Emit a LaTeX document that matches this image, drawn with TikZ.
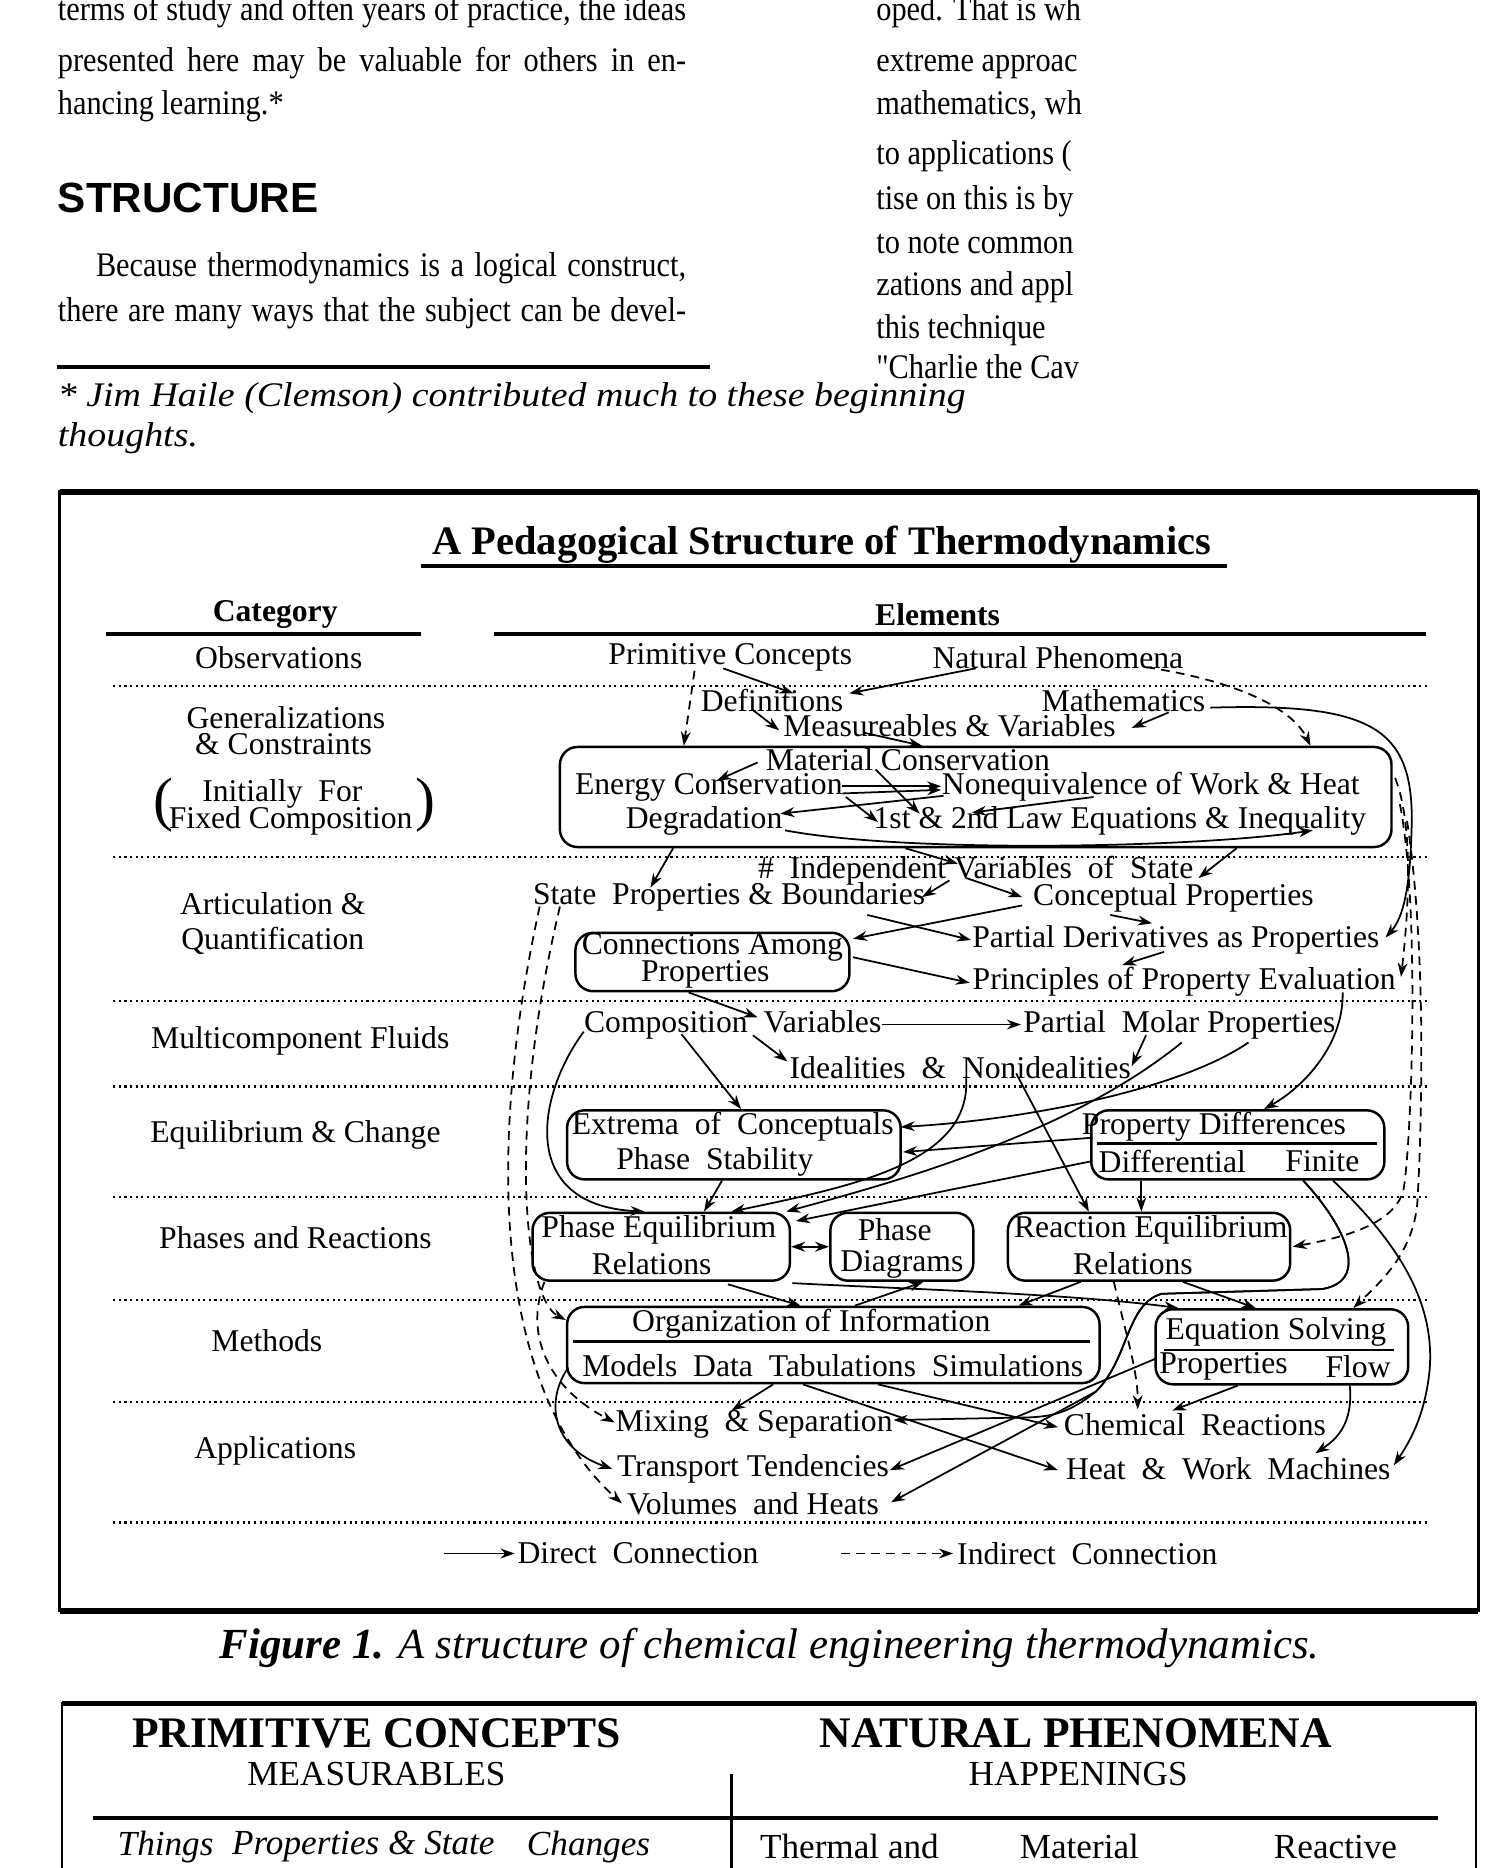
\documentclass[tikz,border=0pt]{standalone}
\usepackage{fontspec}
\setmainfont{Liberation Serif}
\newfontfamily\bodyfont[FakeStretch=0.88]{Liberation Serif}
\newfontfamily\footfont[FakeStretch=1.1]{Liberation Serif}
\newfontfamily\headfont{Liberation Sans}
\usetikzlibrary{arrows.meta, positioning, calc, fit}

\newcommand{\elemfont}{\fontsize{9}{10}\selectfont}
\newcommand{\bodyline}[1]{\makebox[6.276cm][s]{#1}}

\tikzset{
  elem/.style={font=\elemfont, inner sep=0.3pt},
  elbox/.style={draw, rounded corners=5pt, line width=0.7pt, inner sep=0pt},
  conn/.style={-{Stealth[length=4pt,width=2.8pt]}, line width=0.5pt},
  both/.style={conn, {Stealth[length=4pt,width=2.8pt]}-{Stealth[length=4pt,width=2.8pt]}},
  indir/.style={conn, dash pattern=on 2.5pt off 1.8pt},
  rowsep/.style={line width=0.6pt, dash pattern=on 0.6pt off 1pt},
  bodytext/.style={font=\bodyfont\fontsize{9.8}{12}\selectfont, anchor=base west, inner sep=0pt},
  foottext/.style={font=\footfont\itshape\fontsize{9.8}{12}\selectfont, anchor=base west, inner sep=0pt},
}

\begin{document}
\begin{tikzpicture}[x=0.011909cm, y=-0.011909cm]
\useasboundingbox (0,0) rectangle (1257,1568);
\fill[white] (0,0) rectangle (1257,1568);
\clip (0,0) rectangle (1257,1568);

% page text above the figure
\node[bodytext] (bodyA) at (48,17) {\bodyline{terms of study and often years of practice, the ideas}};
\node[bodytext] (bodyB) at (48,60) {\bodyline{presented here may be valuable for others in en-}};
\node[bodytext] (bodyC) at (48,96) {hancing learning.*};
\node[anchor=base west, inner sep=0pt, font=\headfont\bfseries\fontsize{12}{14}\selectfont] (secHead) at (48,178) {STRUCTURE};
\node[bodytext] (bodyD) at (80,232) {\makebox[5.895cm][s]{Because thermodynamics is a logical construct,}};
\node[bodytext] (bodyE) at (48,270) {\bodyline{there are many ways that the subject can be devel-}};
\draw[line width=1.2pt] (48,308) -- (596,308);
\node[foottext] (footA) at (48,341) {* Jim Haile (Clemson) contributed much to these beginning};
\node[foottext] (footB) at (48,375) {thoughts.};

\foreach \y/\t in {17/{oped. That is wh}, 60/{extreme approac}, 96/{mathematics, wh}, 138/{to applications (},
  176/{tise on this is by}, 213/{to note common}, 248/{zations and appl}, 284/{this technique}, 318/{"Charlie the Cav}}
  \node[bodytext] (right\y) at (735,\y) {\t};

% figure frame
\draw[line width=1pt] (50,413) rectangle (1241,1352);
\draw[line width=1.6pt] (50,413) -- (1241,413);
\draw[line width=1.6pt] (50,1352) -- (1241,1352);

\node[font=\bfseries\fontsize{11.5}{13}\selectfont, inner sep=1pt] (title) at (690,457) {A Pedagogical Structure of Thermodynamics};
\draw[line width=1.1pt] (353,475) -- (1030,475);

\node[elem, font=\elemfont\bfseries] (cathead) at (231,516) {Category};
\node[elem, font=\elemfont\bfseries] (elhead) at (787,516) {Elements};
\draw[line width=1.2pt] (89,532) -- (353,532);
\draw[line width=1.2pt] (415,532) -- (1197,532);

% row separators
\foreach \y in {576, 719, 840, 912, 1005, 1091, 1177, 1278}
  \draw[rowsep] (95,\y) -- (1198,\y);

% category column
\node[elem] (catobs) at (234,552) {Observations};
\node[elem] (catgenA) at (240,602) {Generalizations};
\node[elem] (catgenB) at (238,625) {\& Constraints};
\node[elem] (catinitA) at (237,666) {Initially\ \ For};
\node[elem] (catinitB) at (244,689) {Fixed Composition};
\node[inner sep=0pt, font=\fontsize{17}{17}\selectfont] (lpar) at (137,676) {(};
\node[inner sep=0pt, font=\fontsize{17}{17}\selectfont] (rpar) at (357,676) {)};
\node[elem, align=center] (catart) at (229,775) {Articulation \&\\Quantification};
\node[elem] (catmulti) at (252,874) {Multicomponent Fluids};
\node[elem] (catequil) at (248,953) {Equilibrium \& Change};
\node[elem] (catphase) at (248,1039) {Phases and Reactions};
\node[elem] (catmeth) at (224,1125) {Methods};
\node[elem] (catappl) at (231,1218) {Applications};

% elements
\node[elem] (prim) at (613,552) {Primitive Concepts};
\node[elem] (natph) at (888,552) {Natural Phenomena};
\node[elem] (defs) at (648,588) {Definitions};
\node[elem] (maths) at (943,588) {Mathematics};
\node[elem] (meas) at (797,609) {Measureables \& Variables};

\node[elbox, fit={(470,627) (1168,711)}] (gbox) {};
\node[elem] (matcons) at (762,638) {Material Conservation};
\node[elem] (encons) at (595,661) {Energy Conservation};
\node[elem] (noneq) at (966,660) {Nonequivalence of Work \& Heat};
\node[elem] (degr) at (591,689) {Degradation};
\node[elem] (laws) at (940,689) {1st \& 2nd Law Equations \& Inequality};

\node[elem] (indep) at (819,731) {\#\ \ Independent Variables\ \ of\ \ State};
\node[elem] (statep) at (612,753) {State\ \ Properties \& Boundaries};
\node[elem] (concp) at (985,754) {Conceptual Properties};
\node[elbox, fit={(483,783) (713,832)}] (connbox) {};
\node[elem] (connA) at (598,795) {Connections Among};
\node[elem] (connB) at (592,818) {Properties};
\node[elem] (pderiv) at (987,789) {Partial Derivatives as Properties};
\node[elem] (princ) at (994,824) {Principles of Property Evaluation};

\node[elem] (compv) at (615,860) {Composition\ \ Variables};
\node[elem] (pmolar) at (990,860) {Partial\ \ Molar Properties};
\node[elem] (ideal) at (806,896) {Idealities\ \ \&\ \ Nonidealities};

\node[elbox, fit={(476,932) (756,990)}] (extbox) {};
\node[elem] (extA) at (615,946) {Extrema\ \ of\ \ Conceptuals};
\node[elem] (extB) at (600,975) {Phase\ \ Stability};
\node[elbox, fit={(916,932) (1162,990)}] (pdbox) {};
\node[elem] (pdA) at (1019,946) {Property Differences};
\draw[line width=0.7pt] ($(pdbox.west)+(6,-1)$) -- ($(pdbox.east)+(-7,-1)$);
\node[elem] (pdB) at (984,975) {Differential};
\node[elem] (pdC) at (1110,975) {Finite};

\node[elbox, fit={(447,1018) (663,1075)}] (pebox) {};
\node[elem] (peA) at (553,1032) {Phase Equilibrium};
\node[elem] (peB) at (547,1061) {Relations};
\node[elbox, fit={(697,1018) (817,1075)}] (pdgbox) {};
\node[elem] (pdgA) at (751,1032) {Phase};
\node[elem] (pdgB) at (757,1061) {Diagrams};
\node[elbox, fit={(846,1018) (1083,1075)}] (rebox) {};
\node[elem] (reA) at (966,1032) {Reaction Equilibrium};
\node[elem] (reB) at (951,1061) {Relations};

\node[elbox, fit={(476,1097) (923,1161)}] (orgbox) {};
\node[elem] (orgA) at (681,1111) {Organization of Information};
\draw[line width=0.7pt] (481,1126) -- (915,1126);
\node[elem] (orgB) at (699,1146) {Models\ \ Data\ \ Tabulations\ \ Simulations};
\node[elbox, fit={(970,1099) (1182,1162)}] (eqbox) {};
\node[elem] (eqA) at (1071,1118) {Equation Solving};
\draw[line width=0.7pt] (977,1133) -- (1170,1133);
\node[elem] (eqB) at (1027,1147) {Properties};
\node[elem] (eqC) at (1140,1147) {Flow};

\node[elem] (mixsep) at (633,1196) {Mixing\ \ \& Separation};
\node[elem] (chemr) at (1003,1196) {Chemical\ \ Reactions};
\node[elem] (transp) at (632,1233) {Transport Tendencies};
\node[elem] (heatw) at (1031,1233) {Heat\ \ \&\ \ Work\ \ Machines};
\node[elem] (volh) at (632,1262) {Volumes\ \ and Heats};

% observations -> generalizations
\draw[conn] ($(prim)+(-6,9)$) -- ($(defs)+(18,-6)$);
\draw[conn] ($(natph)+(-69,9)$) -- ($(defs)+(65,-6)$);
\draw[indir] ($(natph)+(74,8)$) .. controls (1040,572) and (1085,595) .. ($(gbox.north)+(281,0)$);
\draw[indir] ($(prim)+(-30,11)$) -- ($(gbox.north west)+(105,0)$);
\draw[conn] ($(defs)+(-16,8)$) -- ($(meas)+(-143,4)$);
\draw[conn] ($(maths)+(38,10)$) -- ($(meas)+(153,2)$);
\draw[conn] ($(maths)+(73,6)$) .. controls (1150,590) and (1186,610) .. (1185,690) .. controls (1184,745) and (1178,770) .. ($(pderiv)+(176,-2)$);

% inside the generalizations box
\draw[conn] ($(meas)+(-72,6)$) -- ($(gbox.north)+(-45,0)$);
\draw[conn] ($(matcons)+(-126,2)$) -- ($(encons)+(7,-6)$);
\draw[conn] ($(encons)+(112,-1)$) -- ($(noneq)+(-176,0)$);
\draw[conn] ($(encons)+(112,5)$) -- ($(noneq)+(-176,3)$);
\draw[conn] ($(noneq)+(-174,8)$) -- ($(degr)+(64,-6)$);
\draw[conn] ($(matcons)+(-27,8)$) -- ($(laws)+(-168,-6)$);
\draw[conn] ($(encons)+(115,8)$) -- ($(laws)+(-203,1)$);
\draw[conn] ($(noneq)+(-48,9)$) -- ($(laws)+(-124,-7)$);
\draw[conn] ($(degr)+(68,8)$) .. controls (760,716) and (1000,712) .. ($(laws)+(162,8)$);

% generalizations -> articulation
\draw[conn] ($(gbox.south)+(-254,0)$) -- ($(statep)+(-66,-8)$);
\draw[conn] ($(gbox.south)+(-59,0)$) -- ($(indep)+(-15,-6)$);
\draw[conn] ($(gbox.south)+(219,0)$) -- ($(indep)+(187,6)$);
\draw[conn] ($(indep)+(-22,8)$) -- ($(statep)+(162,0)$);
\draw[conn] ($(indep)+(-8,6)$) -- ($(concp)+(-127,-1)$);
\draw[conn] ($(concp)+(-127,6)$) -- ($(connbox.north east)+(2,6)$);
\draw[conn] ($(statep)+(116,15)$) -- ($(pderiv)+(-172,0)$);
\draw[conn] ($(concp)+(-53,14)$) -- ($(pderiv)+(-20,-14)$);
\draw[conn] ($(pderiv)+(-10,10)$) -- ($(princ)+(-52,-14)$);
\draw[conn] ($(connbox.east)+(2,-4)$) -- ($(princ)+(-180,1)$);

% articulation -> multicomponent -> equilibrium
\draw[conn] ($(connbox.south)+(-20,0)$) -- ($(compv)+(21,-6)$);
\draw[conn] ($(compv)+(125,0)$) -- ($(pmolar)+(-133,0)$);
\draw[conn] ($(compv)+(17,9)$) -- ($(ideal)+(-145,-5)$);
\draw[conn] ($(compv)+(-43,8)$) -- ($(extbox.north)+(6,0)$);
\draw[conn] ($(compv)+(-125,6)$) .. controls (450,920) and (435,1012) .. ($(pebox.north)+(-14,0)$);
\draw[conn] ($(princ)+(133,9)$) .. controls (1128,880) and (1090,915) .. ($(pdbox.north)+(22,0)$);
\draw[conn] ($(pmolar)+(-28,9)$) -- ($(ideal)+(144,-1)$);
\draw[conn] ($(pmolar)+(58,15)$) .. controls (990,915) and (860,940) .. ($(extbox.east)+(-1,-15)$);
\draw[conn] ($(pmolar)+(2,15)$) .. controls (900,950) and (760,990) .. ($(pebox.north east)+(-4,0)$);

% equilibrium -> phases
\draw[conn] ($(pdbox.west)+(2,-6)$) -- ($(extbox.east)+(1,6)$);
\draw[conn] ($(pdbox.west)+(0,14)$) -- ($(pebox.north east)+(4,8)$);
\draw[conn] ($(extbox.south)+(-10,0)$) -- ($(pebox.north)+(36,0)$);
\draw[conn] ($(ideal)+(5,9)$) .. controls (815,975) and (720,995) .. ($(pebox.north)+(59,0)$);
\draw[conn] ($(ideal)+(47,5)$) -- ($(rebox.north west)+(69,0)$);
\draw[conn] ($(pdbox.south)+(-81,0)$) -- ($(rebox.north)+(-6.5,0)$);

% phases -> methods
\draw[both] (pebox.east) -- (pdgbox.west);
\draw[conn] ($(pebox.south)+(56,2)$) -- ($(orgbox.north)+(-27.5,0)$);
\draw[conn] ($(orgbox.north)+(18,0)$) -- ($(pdgbox.south)+(18,0)$);
\draw[conn] ($(rebox.south)+(-57.5,0)$) -- ($(orgbox.north)+(155.5,0)$);
\draw[conn] ($(rebox.south)+(28.5,0)$) -- ($(eqbox.north)+(-22,0)$);
\draw[conn] ($(pebox.south east)+(1,1)$) .. controls (760,1082) and (900,1086) .. ($(eqbox.north west)+(20,0)$);
\draw[indir] ($(rebox.south)+(-29.5,0)$) .. controls (945,1120) and (955,1150) .. ($(chemr)+(-48,-13)$);

% property differences loop -> applications
\draw[conn] ($(pdbox.south)+(55,0)$) .. controls (1130,1030) and (1150,1075) .. (1110,1082) -- (975,1086) .. controls (945,1095) and (948,1140) .. (920,1168) -- ($(volh)+(116,-1)$);
\draw[conn] ($(pdbox.south)+(55,0)$) .. controls (1130,1030) and (1150,1075) .. (1110,1082) -- (975,1086) .. controls (945,1095) and (948,1140) .. (920,1168) .. controls (895,1188) and (880,1190) .. (850,1190) -- ($(mixsep)+(117,-4)$);
\draw[conn] ($(pdbox.south)+(80,0)$) .. controls (1170,1040) and (1205,1090) .. (1200,1150) .. controls (1196,1190) and (1182,1212) .. ($(heatw)+(139,-3)$);

% methods -> applications
\draw[conn] ($(eqbox.west)+(1,10)$) -- ($(transp)+(115,1)$);
\draw[conn] ($(eqbox.south)+(-37,0)$) -- ($(chemr)+(-19,-12)$);
\draw[conn] ($(eqbox.south)+(57,0)$) .. controls (1136,1195) and (1122,1208) .. ($(heatw)+(73,-13)$);
\draw[conn] ($(orgbox.south)+(-50.5,0)$) -- ($(mixsep)+(-19,-12)$);
\draw[conn] ($(orgbox.south)+(-25.5,0)$) -- ($(heatw)+(-143,1)$);
\draw[conn] ($(orgbox.south)+(37.5,0)$) -- ($(chemr)+(-115,2)$);
\draw[conn] ($(orgbox.west)+(2,19)$) .. controls (458,1175) and (462,1215) .. ($(transp)+(-118,0)$);

% indirect links, left side
\draw[indir] ($(statep)+(-159,8)$) .. controls (405,980) and (420,1170) .. ($(volh)+(-110,0)$);
\draw[indir] ($(statep)+(-142,8)$) .. controls (425,950) and (440,1090) .. ($(orgbox.west)+(0,-21)$);
\draw[indir] ($(pebox.south west)+(11,0)$) .. controls (440,1120) and (460,1165) .. ($(mixsep)+(-117,-2)$);

% indirect links, right side
\draw[indir] ($(gbox.east)+(2,-16)$) .. controls (1186,690) and (1183,760) .. ($(princ)+(182,-4)$);
\draw[indir] ($(gbox.east)+(6,6)$) .. controls (1192,760) and (1185,960) .. (1178,999) .. controls (1170,1030) and (1120,1040) .. ($(rebox.east)+(1,0)$);
\draw[indir] ($(gbox.east)+(12,20)$) .. controls (1198,800) and (1193,950) .. (1190,1005) .. controls (1188,1050) and (1160,1075) .. ($(eqbox.north)+(60,0)$);

% legend
\coordinate (dirA) at (373,1304);
\coordinate (dirB) at (432,1304);
\draw[conn] (dirA) -- (dirB);
\node[elem, anchor=west] (dirlab) at (433,1304) {Direct\ \ Connection};
\coordinate (indA) at (706,1304);
\coordinate (indB) at (800,1304);
\draw[indir] (indA) -- (indB);
\node[elem, anchor=west] (indlab) at (802,1304) {Indirect\ \ Connection};

% caption
\node[anchor=base, inner sep=0pt, font=\itshape\fontsize{12.2}{14}\selectfont] (caption) at (646,1392) {\textbf{Figure 1.} A structure of chemical engineering thermodynamics.};

% table below
\draw[line width=0.8pt] (52,1568) -- (52,1430) -- (1239,1430) -- (1239,1568);
\draw[line width=1.6pt] (52,1430) -- (1239,1430);
\node[inner sep=0pt, font=\bfseries\fontsize{12.4}{14}\selectfont] (primhd) at (316,1455) {PRIMITIVE CONCEPTS};
\node[inner sep=0pt, font=\fontsize{10}{12}\selectfont] (meashd) at (316,1489) {MEASURABLES};
\node[inner sep=0pt, font=\bfseries\fontsize{12.4}{14}\selectfont] (naturhd) at (903,1455) {NATURAL PHENOMENA};
\node[inner sep=0pt, font=\fontsize{10}{12}\selectfont] (happhd) at (905,1489) {HAPPENINGS};
\draw[line width=0.6pt] (614,1489) -- (614,1568);
\draw[line width=1.3pt] (78,1526) -- (1207,1526);
\node[inner sep=0pt, font=\itshape\fontsize{10}{12}\selectfont] (things) at (139,1550) {Things};
\node[inner sep=0pt, font=\itshape\fontsize{10}{12}\selectfont] (propst) at (305,1550) {Properties \& State};
\node[inner sep=0pt, font=\itshape\fontsize{10}{12}\selectfont] (changes) at (494,1550) {Changes};
\node[inner sep=0pt, font=\fontsize{10}{12}\selectfont] (thermal) at (713,1550) {Thermal and};
\node[inner sep=0pt, font=\fontsize{10}{12}\selectfont] (material) at (906,1550) {Material};
\node[inner sep=0pt, font=\fontsize{10}{12}\selectfont] (reactive) at (1121,1550) {Reactive};
\end{tikzpicture}
\end{document}
